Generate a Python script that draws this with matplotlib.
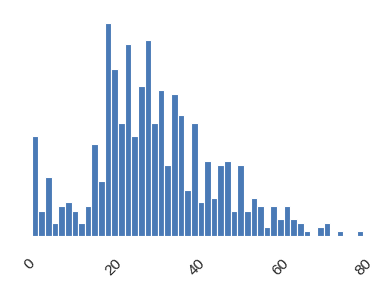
import numpy as np
import matplotlib
matplotlib.use("Agg")
import matplotlib.pyplot as plt

# Histogram of ages (50 bins between min and max value)
age_min = 0.42
age_max = 80.0
counts = [24, 6, 14, 3, 7, 8, 6, 3, 7, 22,
          13, 51, 40, 27, 46, 24, 36, 47, 27, 35,
          17, 34, 29, 11, 27, 8, 18, 9, 17, 18,
          6, 17, 6, 9, 7, 2, 7, 4, 7, 4,
          3, 1, 0, 2, 3, 0, 1, 0, 0, 1]
xticks = [0, 20, 40, 60, 80]

plt.rcParams['font.family'] = ['Liberation Sans', 'DejaVu Sans']

fig = plt.figure(figsize=(3.86, 2.96), dpi=100)
ax = fig.add_axes([15.2 / 386, (296 - 235.5) / 296, 364.7 / 386, 222.8 / 296])

edges = np.linspace(age_min, age_max, len(counts) + 1)
ax.bar(edges[:-1], counts, width=np.diff(edges), align='edge',
       color='#4a7ab6', edgecolor='white', linewidth=0.8)

ax.set_xlim(-3.56, 83.98)
ax.set_ylim(0, 53.55)
ax.set_xticks(xticks)
ax.set_xticklabels([str(t) for t in xticks], rotation=45, fontsize=11, color='#262626')
ax.tick_params(axis='x', length=0, pad=15)
ax.set_yticks([])
for s in ax.spines.values():
    s.set_visible(False)

fig.savefig('out.png', dpi=100, facecolor='white')
